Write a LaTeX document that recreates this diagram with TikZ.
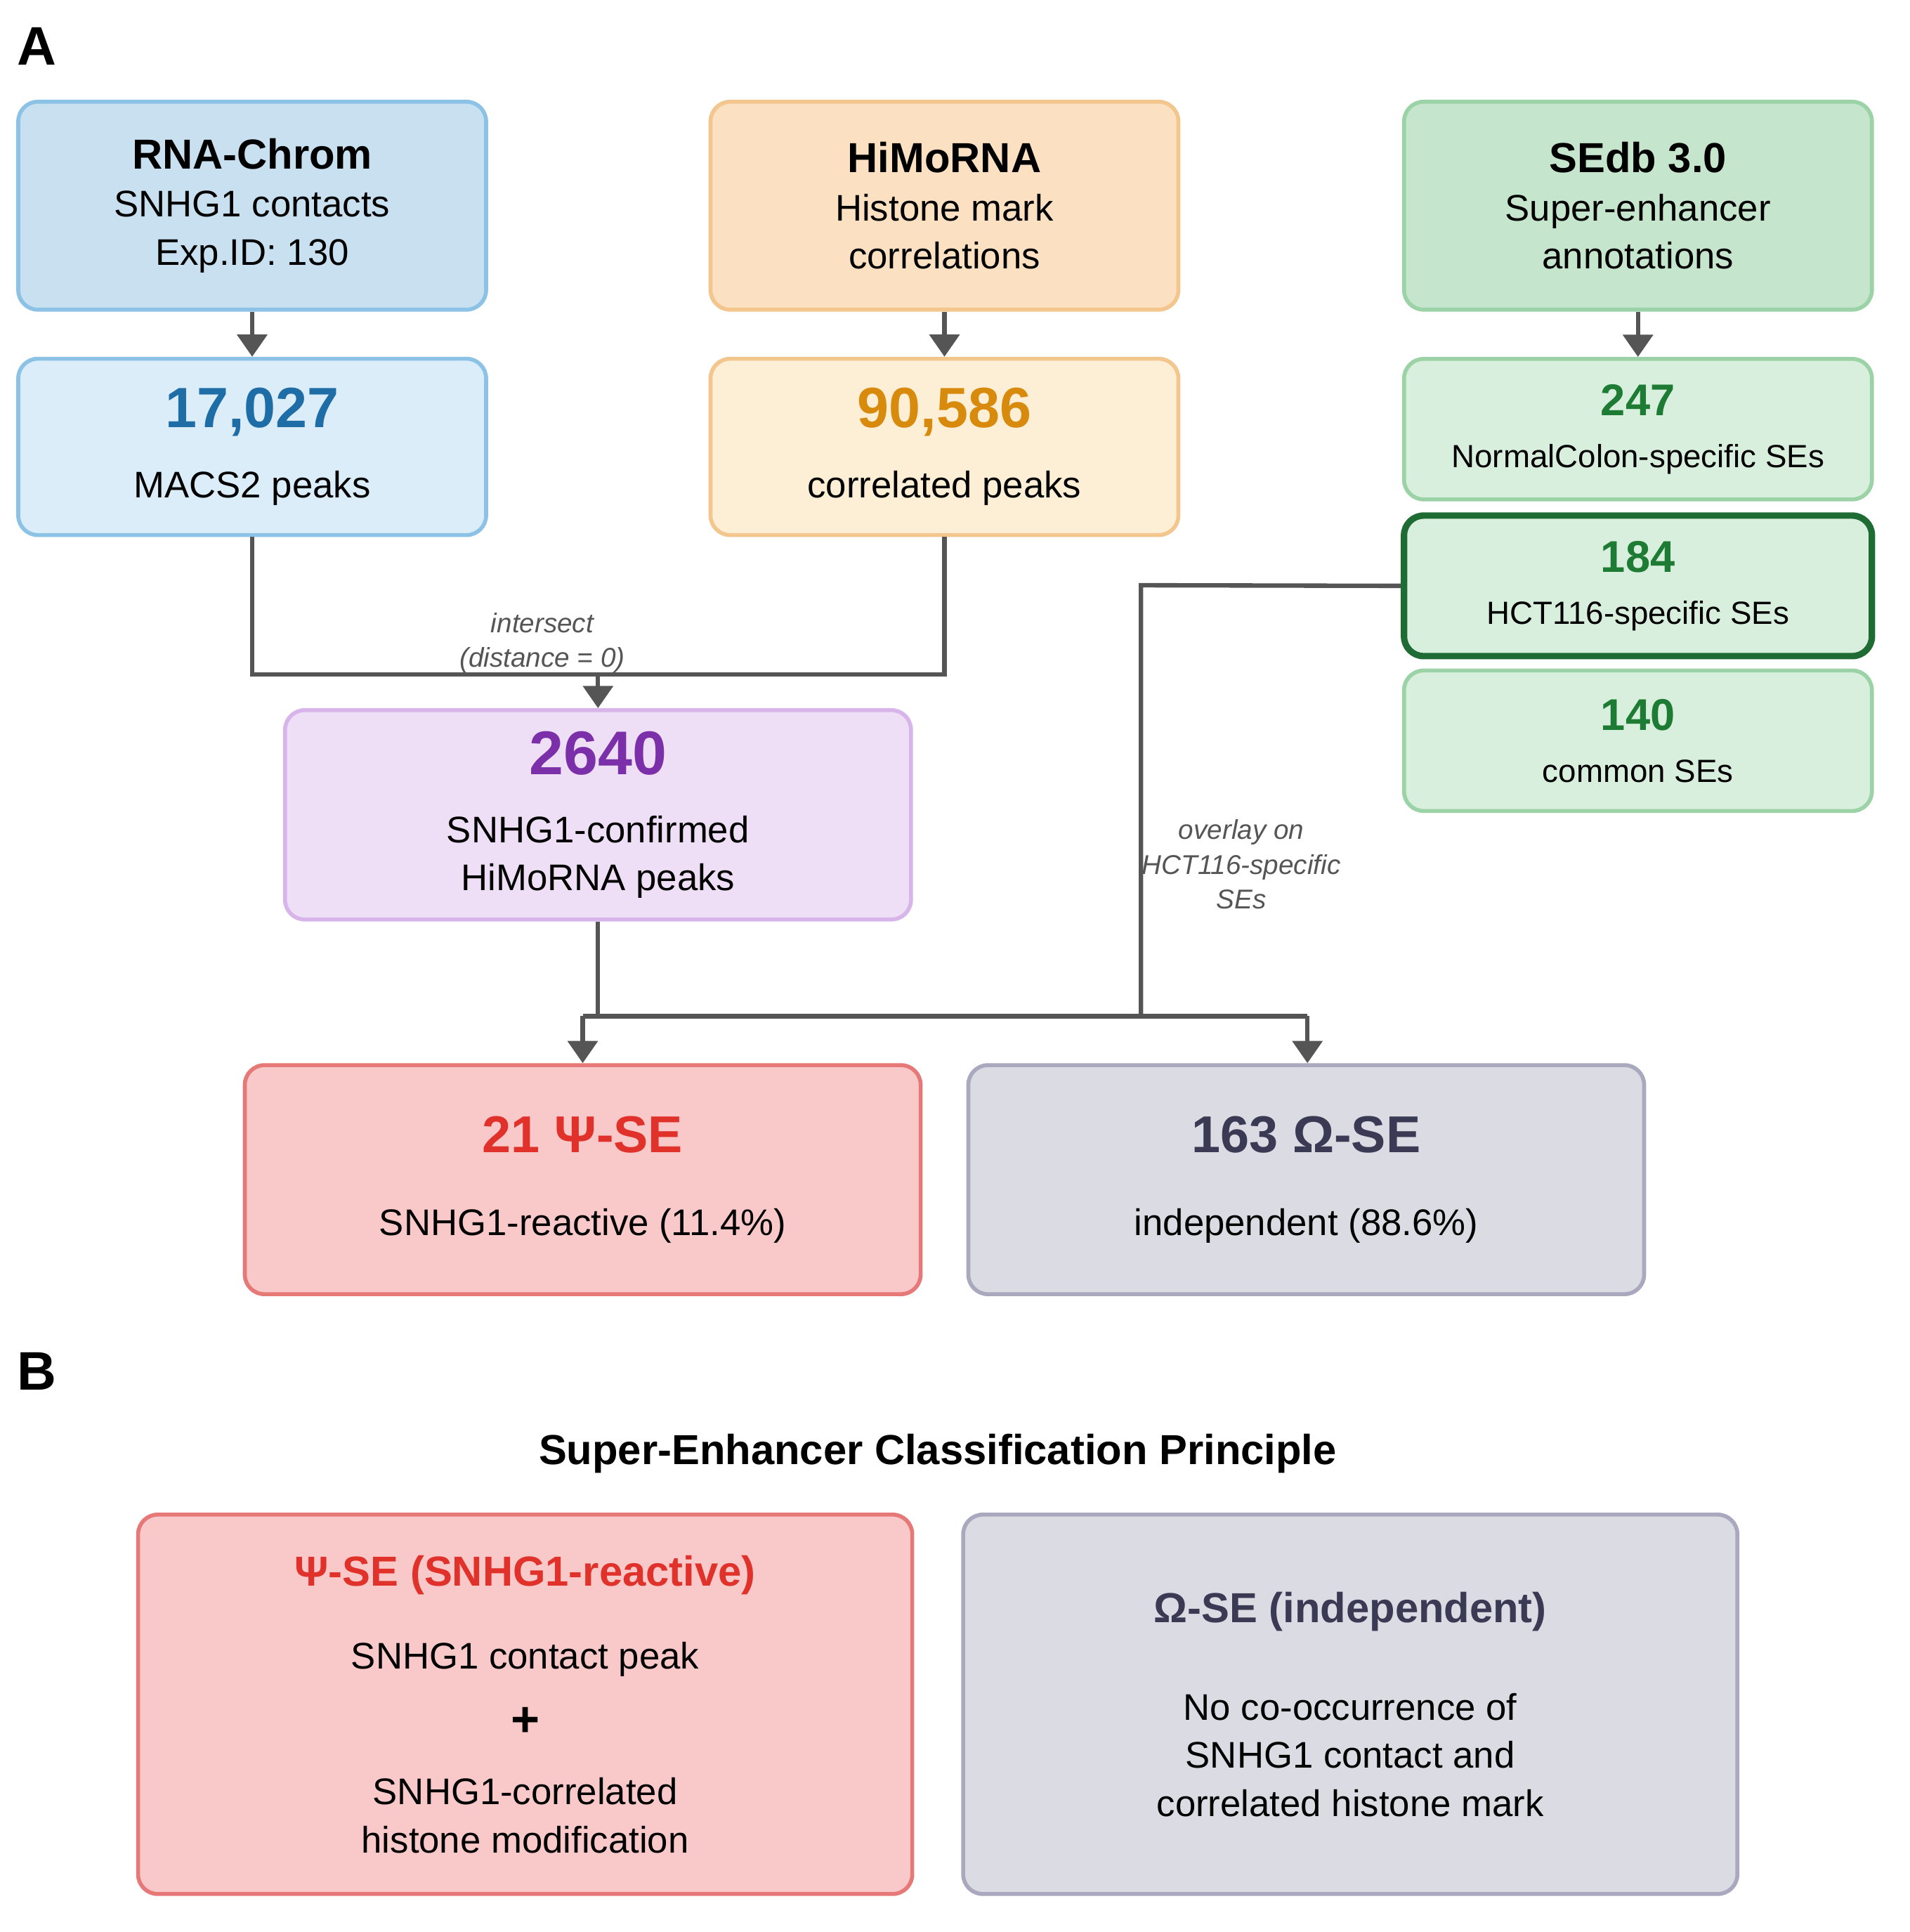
\documentclass[tikz,border=0pt]{standalone}
\usepackage{fontspec}
\setmainfont{Liberation Sans}
\usetikzlibrary{arrows.meta}
\usetikzlibrary{positioning}
\definecolor{blueFill}{HTML}{C8E0F0}
\definecolor{blueLight}{HTML}{DAEDF9}
\definecolor{blueLine}{HTML}{8CC2E6}
\definecolor{blueText}{HTML}{1E6DA6}
\definecolor{orangeFill}{HTML}{FCE0C2}
\definecolor{orangeLight}{HTML}{FDEED6}
\definecolor{orangeLine}{HTML}{F3C68E}
\definecolor{orangeText}{HTML}{D88A0C}
\definecolor{greenFill}{HTML}{C5E6CD}
\definecolor{greenLight}{HTML}{D8EFDD}
\definecolor{greenLine}{HTML}{9BD2A6}
\definecolor{greenDark}{HTML}{1E6B34}
\definecolor{greenText}{HTML}{1E7B34}
\definecolor{purpleFill}{HTML}{EFDFF6}
\definecolor{purpleLine}{HTML}{D7B4EA}
\definecolor{purpleText}{HTML}{7B2FA8}
\definecolor{redFill}{HTML}{F9C9C9}
\definecolor{redLine}{HTML}{E77878}
\definecolor{redText}{HTML}{E0322B}
\definecolor{greyFill}{HTML}{DBDBE3}
\definecolor{greyLine}{HTML}{A9A8BE}
\definecolor{greyText}{HTML}{3A3A55}
\definecolor{flowLine}{HTML}{555555}

\begin{document}
\begin{tikzpicture}[x=0.01743cm,y=-0.01743cm]
			\tikzset{box/.style = {shape=rectangle,draw,rounded corners=0.28cm,
					line width=1.6pt, align=center, inner sep=0pt,
					font=\fontsize{15}{19.5}\selectfont}}
			\tikzset{topbox/.style = {box, minimum width=6.66cm, minimum height=2.96cm}}
			\tikzset{numbox/.style = {box, minimum width=6.66cm, minimum height=2.51cm}}
			\tikzset{sebox/.style = {box, minimum width=6.66cm, minimum height=2.0cm,
					fill=greenLight, draw=greenLine, font=\fontsize{13}{16}\selectfont}}
			\tikzset{resbox/.style = {box, minimum width=9.62cm, minimum height=3.26cm}}
			\tikzset{prinbox/.style = {box, minimum width=11.02cm, minimum height=5.40cm}}
			\tikzset{edge/.style = {-{Triangle[length=9pt,width=12pt]}, line width=1.8pt, draw=flowLine}}
			\tikzset{line/.style = {line width=1.8pt, draw=flowLine}}
			\tikzset{note/.style = {align=center, text=flowLine,
					font=\fontsize{11}{14}\selectfont\itshape}}
			\tikzset{panel/.style = {font=\fontsize{22}{24}\selectfont\bfseries}}
			
			\useasboundingbox (0,0) rectangle (1560,1578);
			
			% panel A
			\node[panel] (labA) at (30,38) {A};
			
			\node[topbox, fill=blueFill, draw=blueLine] (chrom) at (206,168)
				{\textbf{\fontsize{17}{19.5}\selectfont RNA-Chrom}\\SNHG1 contacts\\Exp.ID: 130};
			\node[topbox, fill=orangeFill, draw=orangeLine] (himo) at (771.5,168)
				{\textbf{\fontsize{17}{19.5}\selectfont HiMoRNA}\\Histone mark\\correlations};
			\node[topbox, fill=greenFill, draw=greenLine] (sedb) at (1338,168)
				{\textbf{\fontsize{17}{19.5}\selectfont SEdb 3.0}\\Super-enhancer\\annotations};
			
			\node[numbox, fill=blueLight, draw=blueLine] (macs) at (206,365)
				{{\fontsize{23}{26}\selectfont\bfseries\color{blueText}17,027}\\[9pt]MACS2 peaks};
			\node[numbox, fill=orangeLight, draw=orangeLine] (corr) at (771.5,365)
				{{\fontsize{23}{26}\selectfont\bfseries\color{orangeText}90,586}\\[9pt]correlated peaks};
			
			\node[sebox] (normal) at (1338,350.5)
				{{\fontsize{18}{21}\selectfont\bfseries\color{greenText}247}\\[5pt]NormalColon-specific SEs};
			\node[sebox, draw=greenDark, line width=2.6pt] (hct) at (1338,478.5)
				{{\fontsize{18}{21}\selectfont\bfseries\color{greenText}184}\\[5pt]HCT116-specific SEs};
			\node[sebox] (common) at (1338,605)
				{{\fontsize{18}{21}\selectfont\bfseries\color{greenText}140}\\[5pt]common SEs};
			
			\node[box, minimum width=8.91cm, minimum height=2.98cm, fill=purpleFill,
				draw=purpleLine] (conf) at (488.5,665.5)
				{{\fontsize{25}{28}\selectfont\bfseries\color{purpleText}2640}\\[8pt]SNHG1-confirmed\\HiMoRNA peaks};
			
			\node[resbox, fill=redFill, draw=redLine] (psi) at (476,963.5)
				{{\fontsize{21}{24}\selectfont\bfseries\color{redText}21 Ψ-SE}\\[14pt]SNHG1-reactive (11.4\%)};
			\node[resbox, fill=greyFill, draw=greyLine] (omega) at (1067,963.5)
				{{\fontsize{21}{24}\selectfont\bfseries\color{greyText}163 Ω-SE}\\[14pt]independent (88.6\%)};
			
			\coordinate (join) at (488.5,551);
			\coordinate (split) at (488.5,830);
			\coordinate (turn) at (932,478);
			
			%edges
			\draw[edge] (chrom) -- (macs);
			\draw[edge] (himo) -- (corr);
			\draw[edge] (sedb) -- (normal);
			
			\draw[line] (macs.south) |- (join) -| (corr.south);
			\draw[edge] (join) -- (conf.north);
			\node[note] (inter) at (443,525) {intersect\\(distance = 0)};
			
			\draw[line] (hct.west) -- (turn) -- (932,830);
			\draw[line] (conf.south) -- (split);
			\draw[line] (476,830) -- (1068,830);
			\draw[edge] (476,830) -- (psi.north -| 476,0);
			\draw[edge] (1068,830) -- (omega.north -| 1068,0);
			\node[note] (overlay) at (1014,706) {overlay on\\HCT116-specific\\SEs};
			
			% panel B
			\node[panel] (labB) at (30,1120) {B};
			\node[font=\fontsize{17}{20}\selectfont\bfseries] (title) at (766,1187)
				{Super-Enhancer Classification Principle};
			
			\node[prinbox, fill=redFill, draw=redLine] (psiB) at (429,1392)
				{{\fontsize{17}{20}\selectfont\bfseries\color{redText}Ψ-SE (SNHG1-reactive)}\\[14pt]
				SNHG1 contact peak\\[8pt]{\fontsize{20}{22}\selectfont\bfseries +}\\[8pt]SNHG1-correlated\\histone modification};
			\node[prinbox, fill=greyFill, draw=greyLine] (omegaB) at (1103,1392)
				{{\fontsize{17}{20}\selectfont\bfseries\color{greyText}Ω-SE (independent)}\\[20pt]
				No co-occurrence of\\SNHG1 contact and\\correlated histone mark};
\end{tikzpicture}
\end{document}
